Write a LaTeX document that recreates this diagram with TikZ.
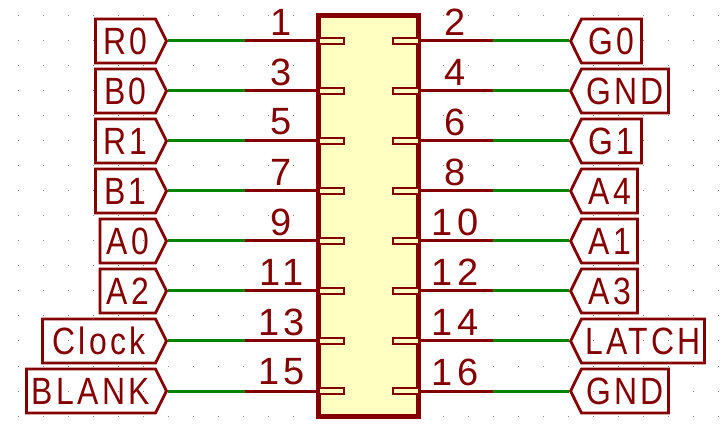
\documentclass[tikz,border=0pt]{standalone}
\usepackage{fontspec}
\setmainfont{Liberation Sans}
\newfontfamily\netfont[FakeStretch=0.84,LetterSpace=9]{Liberation Sans}
\newfontfamily\numfont[LetterSpace=12]{Liberation Sans}
\usepackage{tikz}
\usetikzlibrary{shapes.symbols,positioning,calc}
\definecolor{pinred}{RGB}{132,0,0}
\definecolor{wiregreen}{RGB}{0,132,0}
\definecolor{bodyfill}{RGB}{255,255,194}
\definecolor{griddot}{RGB}{132,132,132}
\tikzset{
    netlabel/.style={shape=signal, draw=pinred, line width=2.8pt, text=pinred, font=\netfont\fontsize{38}{38}\selectfont,
        minimum height=44pt, inner sep=0pt, signal pointer angle=127},
    labelleft/.style={netlabel, signal to=east, anchor=east},
    labelright/.style={netlabel, signal to=west, anchor=west},
    pinnum/.style={text=pinred, font=\numfont\fontsize{38}{38}\selectfont, inner sep=0pt},
    wire/.style={draw=wiregreen, line width=3pt},
    pinline/.style={draw=pinred, line width=3pt},
    stub/.style={draw=pinred, line width=2.4pt, fill=bodyfill},
    body/.style={draw=pinred, line width=5pt, fill=bodyfill, minimum width=100pt, minimum height=400pt, inner sep=0pt}
}
\begin{document}
\begin{tikzpicture}[x=1pt, y=-1pt]
    \useasboundingbox (0,0) rectangle (723,430);

    % Grid dots
    \foreach \gx in {0,...,28}
        \foreach \gy in {0,...,16}
            \fill[griddot] (18+25*\gx-0.5,16+25*\gy-0.5) rectangle ++(1,1);

    % Connector body
    \node[body] (conn) at (368.5,216) {};

    % Odd pins, left side
    \foreach \num/\txt/\lblw [count=\i from 0] in {1/R0/71, 3/B0/71, 5/R1/71, 7/B1/71, 9/A0/66.5, 11/A2/66.5, 13/Clock/124, 15/BLANK/140} {
        \pgfmathsetmacro{\ypos}{41+50*\i}
        \coordinate (pin\num) at (319,\ypos);
        \coordinate (bend\num) at (245,\ypos);
        \node[labelleft, minimum width=\lblw pt] (net\num) at (168,\ypos) {\txt};
        \node[pinnum] (num\num) at (281.5,\ypos-19) {\num};
        \draw[stub] (pin\num) ++(0,-3) rectangle ++(25,6);
        \draw[wire] (net\num.east) -- (bend\num);
        \draw[pinline] (bend\num) -- (pin\num);
    }

    % Even pins, right side
    \foreach \num/\txt/\lblw [count=\i from 0] in {2/G0/71, 4/GND/98, 6/G1/71, 8/A4/67, 10/A1/67, 12/A3/67, 14/LATCH/134, 16/GND/98} {
        \pgfmathsetmacro{\ypos}{41+50*\i}
        \coordinate (pin\num) at (419,\ypos);
        \coordinate (bend\num) at (493,\ypos);
        \node[labelright, minimum width=\lblw pt] (net\num) at (569,\ypos) {\txt};
        \node[pinnum] (num\num) at (455,\ypos-19) {\num};
        \draw[stub] (pin\num) ++(0,-3) rectangle ++(-26,6);
        \draw[wire] (net\num.west) -- (bend\num);
        \draw[pinline] (bend\num) -- (pin\num);
    }
\end{tikzpicture}
\end{document}
